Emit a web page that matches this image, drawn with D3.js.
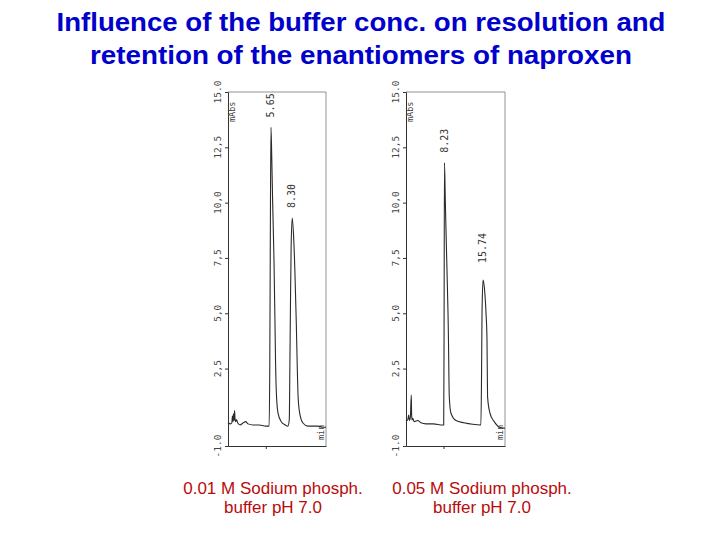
<!DOCTYPE html>
<html lang="en">
<head>
<meta charset="UTF-8">
<title>Naproxen enantiomers</title>
<style>
  body { margin: 0; background: #fff; }
  svg { display: block; }
  .title { font-family: "Liberation Sans", Arial, sans-serif; font-weight: bold; font-size: 26px; fill: #0000cc; }
  .caption { font-family: "Liberation Sans", Arial, sans-serif; font-size: 17px; fill: #b80c0c; }
  .tick-label, .unit { font-family: "DejaVu Sans Mono", monospace; font-size: 9.5px; fill: #444; }
  .unit { font-size: 8.5px; }
  .peak-label { font-family: "DejaVu Sans Mono", monospace; font-size: 10px; fill: #333; }
</style>
</head>
<body>
<div id="viz"></div>
<script src="https://d3js.org/d3.v7.min.js"></script>
<script>
  const titleLines = ["Influence of the buffer conc. on resolution and",
                      "retention of the enantiomers of naproxen"]

  const yTicks = [-1, 2.5, 5, 7.5, 10, 12.5, 15]
  const yTickLabels = ["-1.0", "2,5", "5,0", "7,5", "10,0", "12,5", "15.0"]

  // chromatogram 1: 0.01 M buffer (time in min, absorbance in mAbs)
  const times1 = [0.3, 0.6, 0.78, 0.85, 0.92, 0.98, 1.05, 1.12, 1.17, 1.25, 1.35, 1.5, 1.8, 2.2, 2.5, 2.8, 3.4, 4.2, 5.0, 5.42,
                  5.5, 5.57, 5.65, 5.75, 5.86, 6.02, 6.14, 6.22, 6.31, 6.52, 6.93, 7.43, 7.76, 7.93,
                  8.0, 8.08, 8.16, 8.3, 8.45, 8.62, 8.8, 8.92, 9.03, 9.22, 9.63, 10.25, 11.5, 12.1, 12.5]
  const abs1 = [0.05, 0.0, 0.05, 0.35, 0.1, 0.45, 0.15, 0.6, 0.25, 0.1, 0.2, 0.05, -0.05, 0.05, 0.1, 0.0, -0.05, -0.05, -0.1, -0.1,
                2.5, 8.5, 13.4, 12.0, 10.0, 7.5, 4.8, 2.8, 1.5, 0.5, 0.1, -0.05, -0.1, 0.2,
                2.5, 5.5, 8.0, 9.3, 8.6, 7.0, 4.6, 2.6, 1.2, 0.5, 0.04, -0.1, -0.1, -0.15, -0.15]
  const peaks1 = [{t: 5.65, h: 13.4, label: "5.65"}, {t: 8.30, h: 9.3, label: "8.30"}]

  // chromatogram 2: 0.05 M buffer
  const times2 = [0.7, 1.0, 1.23, 1.35, 1.55, 1.73, 1.8, 1.87, 2.0, 2.32, 3.0, 3.6, 4.6, 6.0, 7.85, 8.05,
                  8.12, 8.2, 8.37, 8.63, 8.89, 8.95, 9.14, 9.47, 10.45, 12.0, 13.7, 15.3,
                  15.42, 15.52, 15.72, 16.0, 16.3, 16.49, 16.6, 17.07, 17.9, 18.9, 20.0]
  const abs2 = [0.18, 0.15, 0.4, 0.15, 0.3, 1.3, 0.4, 0.18, 0.25, 0.1, 0.15, 0.05, 0.0, 0.0, -0.05, -0.05,
                4.0, 11.8, 10.0, 7.5, 5.0, 4.25, 1.23, 0.48, 0.15, 0.05, -0.02, -0.05,
                2.0, 5.0, 6.5, 6.1, 5.0, 3.8, 1.23, 0.48, 0.1, -0.15, -0.2]
  const peaks2 = [{t: 8.23, h: 11.8, label: "8.23"}, {t: 15.74, h: 6.5, label: "15.74"}]

  const captions1 = ["0.01 M Sodium phosph.", "buffer pH 7.0"]
  const captions2 = ["0.05 M Sodium phosph.", "buffer pH 7.0"]

  const svg = d3.select("#viz").append("svg")
    .attr("width", 720)
    .attr("height", 540)

  // the slide title is a little wider than plain Arial bold
  const titleWidths = [609, 542]
  svg.selectAll("text.title")
    .data(titleLines)
    .enter()
    .append("text")
    .attr("class", "title")
    .attr("x", 361)
    .attr("y", function(d, i) { return 31 + i * 33 })
    .attr("text-anchor", "middle")
    .attr("textLength", function(d, i) { return titleWidths[i] })
    .attr("lengthAdjust", "spacingAndGlyphs")
    .text(function(d) { return d })

  const yScale = d3.scaleLinear().domain([-1, 15]).range([446, 92])

  const panels = [
    {left: 228, right: 326, domain: [0.3, 12.5], xTicks: [5], times: times1, abs: abs1, peaks: peaks1, captions: captions1, capX: 273},
    {left: 406, right: 505, domain: [0.7, 20], xTicks: [8], times: times2, abs: abs2, peaks: peaks2, captions: captions2, capX: 482}
  ]

  panels.forEach(function(p) {
    const x = d3.scaleLinear().domain(p.domain).range([p.left, p.right])
    const g = svg.append("g")

    // frame
    g.append("path")
      .attr("d", "M" + p.left + "," + yScale(15) + "H" + p.right + "V" + yScale(-1))
      .attr("fill", "none")
      .attr("stroke", "#777")
      .attr("stroke-width", 0.8)

    // y axis
    const yAxis = g.append("g")
      .attr("transform", "translate(" + p.left + ",0)")
      .call(d3.axisLeft(yScale).tickValues(yTicks).tickSize(3).tickFormat(""))
    yAxis.select(".domain").attr("stroke", "#333")
    yAxis.selectAll(".tick line").attr("stroke", "#333")

    g.selectAll("text.tick-label")
      .data(yTicks)
      .enter()
      .append("text")
      .attr("class", "tick-label")
      .attr("transform", function(d) { return "translate(" + (p.left - 7) + "," + yScale(d) + ") rotate(-90)" })
      .attr("text-anchor", "middle")
      .text(function(d, i) { return yTickLabels[i] })

    // x axis
    const xAxis = g.append("g")
      .attr("transform", "translate(0," + yScale(-1) + ")")
      .call(d3.axisBottom(x).tickValues(p.xTicks).tickSize(3).tickFormat("").tickSizeOuter(0))
    xAxis.select(".domain").attr("stroke", "#333")
    xAxis.selectAll(".tick line").attr("stroke", "#333")

    // units
    g.append("text")
      .attr("class", "unit")
      .attr("transform", "translate(" + (p.left + 7) + "," + (yScale(15) + 30) + ") rotate(-90)")
      .text("mAbs")
    g.append("text")
      .attr("class", "unit")
      .attr("transform", "translate(" + (p.right - 2) + "," + (yScale(-1) - 6) + ") rotate(-90)")
      .text("min")

    // trace
    const pts = p.times.map(function(t, i) { return [t, p.abs[i]] })
    g.append("path")
      .datum(pts)
      .attr("fill", "none")
      .attr("stroke", "#2a2a2a")
      .attr("stroke-width", 1.1)
      .attr("d", d3.line()
        .x(function(d) { return x(d[0]) })
        .y(function(d) { return yScale(d[1]) })
        .curve(d3.curveMonotoneX))

    // retention time labels
    g.selectAll("text.peak-label")
      .data(p.peaks)
      .enter()
      .append("text")
      .attr("class", "peak-label")
      .attr("transform", function(d) { return "translate(" + (x(d.t) + 3) + "," + (yScale(d.h) - (d.h < 8 ? 17 : 10)) + ") rotate(-90)" })
      .text(function(d) { return d.label })

    // caption
    svg.selectAll(null)
      .data(p.captions)
      .enter()
      .append("text")
      .attr("class", "caption")
      .attr("x", p.capX)
      .attr("y", function(d, i) { return 494 + i * 19 })
      .attr("text-anchor", "middle")
      .text(function(d) { return d })
  })
</script>
</body>
</html>
